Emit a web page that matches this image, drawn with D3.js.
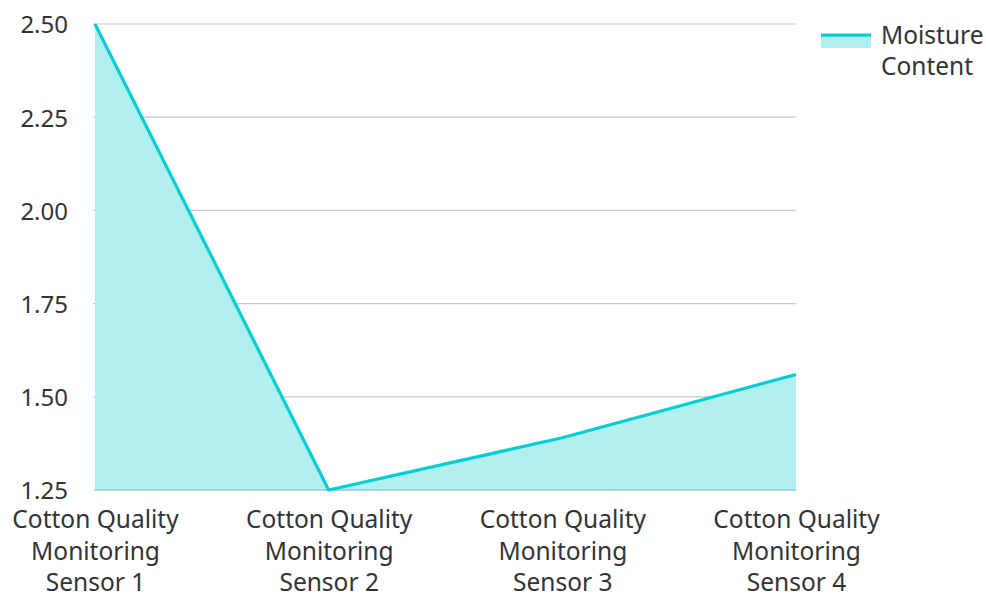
<!DOCTYPE html>
<html>
<head>
<meta charset="utf-8">
<script src="https://cdn.jsdelivr.net/npm/d3@7"></script>
<style>
  html, body { margin: 0; padding: 0; background: #fff; }
  svg { display: block; }
  svg text { font-family: "Noto Sans", "Open Sans", sans-serif; }
</style>
</head>
<body>
<svg id="chart" width="986" height="594"></svg>
<script>
// Sensor readings
const categories = [
  ["Cotton Quality", "Monitoring", "Sensor 1"],
  ["Cotton Quality", "Monitoring", "Sensor 2"],
  ["Cotton Quality", "Monitoring", "Sensor 3"],
  ["Cotton Quality", "Monitoring", "Sensor 4"]
];
const moisture = [2.50, 1.25, 1.39, 1.56];
const yTicks = [1.25, 1.50, 1.75, 2.00, 2.25, 2.50];
const seriesName = ["Moisture", "Content"];

const svg = d3.select("#chart");
const margin = { left: 95, right: 190, top: 24, bottom: 104 };
const W = 986, H = 594;

const x = d3.scalePoint()
  .domain(d3.range(categories.length))
  .range([margin.left, W - margin.right]);
const y = d3.scaleLinear()
  .domain([1.25, 2.5])
  .range([H - margin.bottom, margin.top]);

const lineColor = "#00CED1";
const fillColor = "#B2EFEF";
const textColor = "#333";
const fontFamily = "'Noto Sans', 'Open Sans', sans-serif";

// horizontal gridlines
const grid = svg.append("g");
grid.selectAll("line").data(yTicks).join("line")
  .attr("x1", margin.left - 2).attr("x2", W - margin.right)
  .attr("y1", d => y(d)).attr("y2", d => y(d))
  .attr("stroke", "#c8c8c8").attr("stroke-width", 1.2);

// y axis labels
const yAxis = d3.axisLeft(y).tickValues(yTicks).tickFormat(d3.format(".2f")).tickSize(0).tickPadding(0);
const yg = svg.append("g").attr("transform", `translate(${margin.left - 27},0)`).call(yAxis)
  .attr("font-family", fontFamily).attr("font-size", 24);
yg.select(".domain").remove();
yg.selectAll("text").attr("fill", textColor).attr("dy", "0.37em");

const area = d3.area()
  .x((d, i) => x(i)).y0(y(1.25)).y1(d => y(d));
const line = d3.line()
  .x((d, i) => x(i)).y(d => y(d));

svg.append("path").datum(moisture).attr("d", area)
  .attr("fill", fillColor);
// baseline over area
svg.append("line")
  .attr("x1", margin.left).attr("x2", W - margin.right)
  .attr("y1", y(1.25)).attr("y2", y(1.25))
  .attr("stroke", "#8fd0d0").attr("stroke-width", 1.5);
svg.append("path").datum(moisture).attr("d", line)
  .attr("fill", "none").attr("stroke", lineColor).attr("stroke-width", 3.2)
  .attr("stroke-linejoin", "miter");

// x axis labels
const xAxis = d3.axisBottom(x).tickSize(0).tickFormat(() => "");
const xg = svg.append("g").attr("transform", `translate(0,${y(1.25)})`).call(xAxis)
  .attr("font-family", fontFamily).attr("font-size", 24.5);
xg.select(".domain").remove();
xg.selectAll(".tick").each(function(i) {
  const t = d3.select(this).append("text")
    .attr("text-anchor", "middle").attr("fill", textColor);
  categories[i].forEach((s, k) => {
    t.append("tspan").attr("x", 0).attr("y", 38 + k * 31.7).text(s);
  });
});

// legend
const lg = svg.append("g").attr("transform", "translate(821,35)");
lg.append("rect").attr("x", 0).attr("y", 1.5).attr("width", 50).attr("height", 11.5).attr("fill", fillColor);
lg.append("rect").attr("x", 0).attr("y", -1.5).attr("width", 50).attr("height", 3.2).attr("fill", lineColor);
const lt = lg.append("text").attr("fill", textColor).style("font-size", "24.5px");
seriesName.forEach((s, k) => {
  lt.append("tspan").attr("x", 60).attr("y", 8.5 + k * 31.7).text(s);
});
</script>
</body>
</html>
